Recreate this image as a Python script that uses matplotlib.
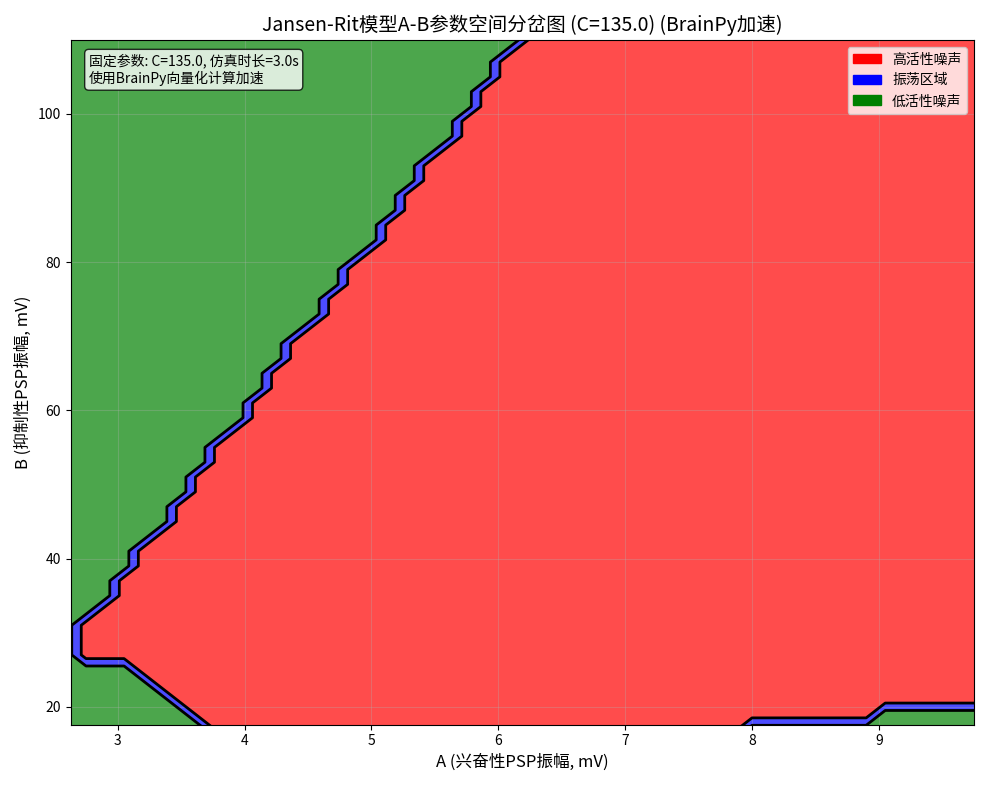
import numpy as np
import matplotlib
matplotlib.use("Agg")
import matplotlib.pyplot as plt
from matplotlib.patches import Patch

plt.rcParams['font.family'] = ['Noto Sans CJK SC', 'DejaVu Sans']
plt.rcParams['axes.unicode_minus'] = False

A_vals = np.round(2.6 + 0.15 * np.arange(49), 3)
B_vals = np.arange(17.0, 112.0, 2.0)

# upper boundary (green above) per A column
upper = [0, 31, 34, 37, 41, 44, 47, 51, 55, 58, 61, 65, 69, 72, 75, 79, 82, 85,
         89, 93, 96, 99, 103, 107, 109, 112] + [200] * 23
# lower boundary (green below) per A column
lower = [0, 26, 26, 26, 24, 22.5, 21, 19] + [0] * 28 + [18.5] * 7 + [20.5] * 6

labels = np.zeros((len(B_vals), len(A_vals)))
for i in range(len(A_vals)):
    col = np.where((B_vals > upper[i]) | (B_vals < lower[i]), 0, 2)
    labels[:, i] = col

fig, ax = plt.subplots(figsize=(9.89, 7.86), dpi=100)
ax.contourf(A_vals, B_vals, labels, levels=[-0.5, 0.5, 1.5, 2.5],
            colors=['green', 'blue', 'red'], alpha=0.7)
ax.contour(A_vals, B_vals, labels, levels=[0.5, 1.5], colors='black', linewidths=2)
ax.set_xlim(2.63, 9.75)
ax.set_ylim(17.6, 110)
ax.grid(True, alpha=0.3)
ax.set_xlabel('A (兴奋性PSP振幅, mV)', fontsize=12)
ax.set_ylabel('B (抑制性PSP振幅, mV)', fontsize=12)
ax.set_title('Jansen-Rit模型A-B参数空间分岔图 (C=135.0) (BrainPy加速)', fontsize=14)
handles = [Patch(color='red', label='高活性噪声'),
           Patch(color='blue', label='振荡区域'),
           Patch(color='green', label='低活性噪声')]
ax.legend(handles=handles, loc='upper right')
ax.text(0.02, 0.98, '固定参数: C=135.0, 仿真时长=3.0s\n使用BrainPy向量化计算加速',
        transform=ax.transAxes, va='top', fontsize=10,
        bbox=dict(boxstyle='round', facecolor='white', alpha=0.8))
fig.tight_layout()
fig.savefig('out.png')
